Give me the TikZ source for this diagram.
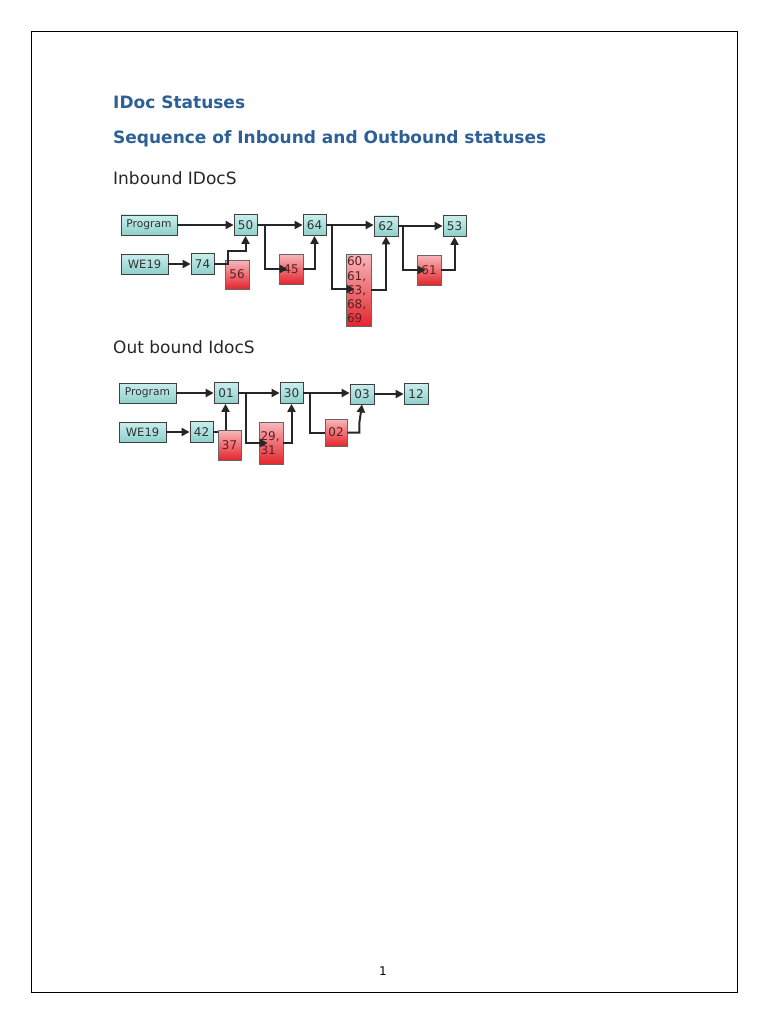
\documentclass[tikz,border=0pt]{standalone}
\usepackage{fontspec}
\setmainfont{DejaVu Sans}
\usetikzlibrary{arrows.meta}
\definecolor{titleblue}{HTML}{2D6096}
\definecolor{tealtop}{HTML}{C9EEEC}
\definecolor{tealbot}{HTML}{8ED0CC}
\definecolor{redtop}{HTML}{F8B8BC}
\definecolor{redbot}{HTML}{E4262E}
\definecolor{redtext}{HTML}{5A2020}
\tikzset{
  tbox/.style={draw=black!75, line width=0.8pt, top color=tealtop, bottom color=tealbot,
    inner sep=0pt, font=\fontsize{12}{12}\selectfont, text=black!80},
  rbox/.style={draw=black!60, line width=0.8pt, top color=redtop, bottom color=redbot,
    inner sep=0pt, font=\fontsize{12}{12}\selectfont, text=redtext},
  arr/.style={line width=2pt, black!85, -{Triangle[length=8pt,width=8pt]}},
  ln/.style={line width=2pt, black!85},
  ttl/.style={anchor=base west, inner sep=0pt, font=\fontsize{17}{17}\selectfont\bfseries, text=titleblue},
  sub/.style={anchor=base west, inner sep=0pt, font=\fontsize{17}{17}\selectfont, text=black!85}
}
\begin{document}
\begin{tikzpicture}[x=1pt,y=-1pt]
\useasboundingbox (0,0) rectangle (768,1024);
\draw[line width=0.8pt] (31,31) rectangle (737,992);
\node[ttl] (t1) at (113,109) {IDoc Statuses};
\node[ttl] (t2) at (113,144) {Sequence of Inbound and Outbound statuses};
\node[sub] (t3) at (113,184.5) {Inbound IDocS};
\node[sub] (t4) at (113,353) {Out bound IdocS};
\node[inner sep=0pt, anchor=base, font=\fontsize{12}{12}\selectfont] (pg) at (383,975) {1};

% Inbound boxes
\node[tbox, minimum width=56pt, minimum height=20pt, font=\fontsize{10.7}{10.7}\selectfont] (iprog) at (149,225) {Program};
\node[tbox, minimum width=23pt, minimum height=21pt] (i50) at (245.5,225) {50};
\node[tbox, minimum width=23pt, minimum height=21pt] (i64) at (314.5,225) {64};
\node[tbox, minimum width=24pt, minimum height=20pt] (i62) at (386,226) {62};
\node[tbox, minimum width=23pt, minimum height=21pt] (i53) at (454.5,226) {53};
\node[tbox, minimum width=47pt, minimum height=20pt, font=\fontsize{11.5}{11.5}\selectfont] (iwe) at (144.5,264) {WE19};
\node[tbox, minimum width=23pt, minimum height=21pt] (i74) at (202.5,264) {74};
\node[rbox, minimum width=24pt, minimum height=29pt] (i56) at (237,274.5) {56};
\node[rbox, minimum width=24pt, minimum height=30pt] (i45) at (291,269) {45};
\node[rbox, minimum width=25pt, minimum height=72pt, align=left, text width=23pt,
  font=\fontsize{12}{14.3}\selectfont] (i60) at (358.5,290) {60,\\61,\\63,\\68,\\69};
\node[rbox, minimum width=24pt, minimum height=30pt] (i61) at (429,270) {61};

% Inbound connectors
\draw[arr] (iprog.east) -- (iprog.east -| i50.west);
\draw[arr] (i50.east) -- (i50.east -| i64.west);
\draw[arr] (i64.east) -- (i64.east -| i62.west);
\draw[arr] (i62.east) -- (i62.east -| i53.west);
\draw[arr] (iwe.east) -- (iwe.east -| i74.west);
\draw[arr] (i74.east) -- ++(14,0) -- ++(0,-13) -| (i50.south);
\draw[arr] (i50.east) ++(8,0) |- ([xshift=9pt]i45.west);
\draw[arr] (i45.east) -| (i64.south);
\draw[arr] (i64.east) ++(6,0) |- ([xshift=9pt,yshift=1pt]i60.west);
\draw[arr] (i60.east) -| (i62.south);
\draw[arr] (i62.east) ++(5,0) |- ([xshift=9pt]i61.west);
\draw[arr] (i61.east) -| (i53.south);

% Outbound boxes
\node[tbox, minimum width=57pt, minimum height=20pt, font=\fontsize{10.7}{10.7}\selectfont] (oprog) at (147.5,393) {Program};
\node[tbox, minimum width=24pt, minimum height=21pt] (o01) at (226,393) {01};
\node[tbox, minimum width=23pt, minimum height=21pt] (o30) at (291.5,393) {30};
\node[tbox, minimum width=24pt, minimum height=20pt] (o03) at (362,394) {03};
\node[tbox, minimum width=24pt, minimum height=21pt] (o12) at (416,394) {12};
\node[tbox, minimum width=47pt, minimum height=20pt, font=\fontsize{11.5}{11.5}\selectfont] (owe) at (142.5,432) {WE19};
\node[tbox, minimum width=23pt, minimum height=21pt] (o42) at (201.5,432) {42};
\node[rbox, minimum width=23pt, minimum height=30pt] (o37) at (229.5,445) {37};
\node[rbox, minimum width=24pt, minimum height=42pt, align=left, text width=21pt,
  font=\fontsize{12}{14}\selectfont] (o29) at (271,443) {29,\\31};
\node[rbox, minimum width=22pt, minimum height=27pt] (o02) at (336,432.5) {02};

% Outbound connectors
\draw[arr] (oprog.east) -- (oprog.east -| o01.west);
\draw[arr] (o01.east) -- (o01.east -| o30.west);
\draw[arr] (o30.east) -- (o30.east -| o03.west);
\draw[arr] (o03.east) -- (o03.east -| o12.west);
\draw[arr] (owe.east) -- (owe.east -| o42.west);
\draw[ln] (o42.east) -- (o42.east -| o37.west);
\draw[arr] ([xshift=-4pt]o37.north) -- ([xshift=-4pt]o37.north |- o01.south);
\draw[arr] (o01.east) ++(8,0) |- ([xshift=9pt]o29.west);
\draw[arr] (o29.east) -| (o30.south);
\draw[ln] (o30.east) ++(7,0) |- (o02.west);
\draw[arr] (o02.east) -- ++(12,0) -- ++(0,-10) -- (o03.south);
\end{tikzpicture}
\end{document}
